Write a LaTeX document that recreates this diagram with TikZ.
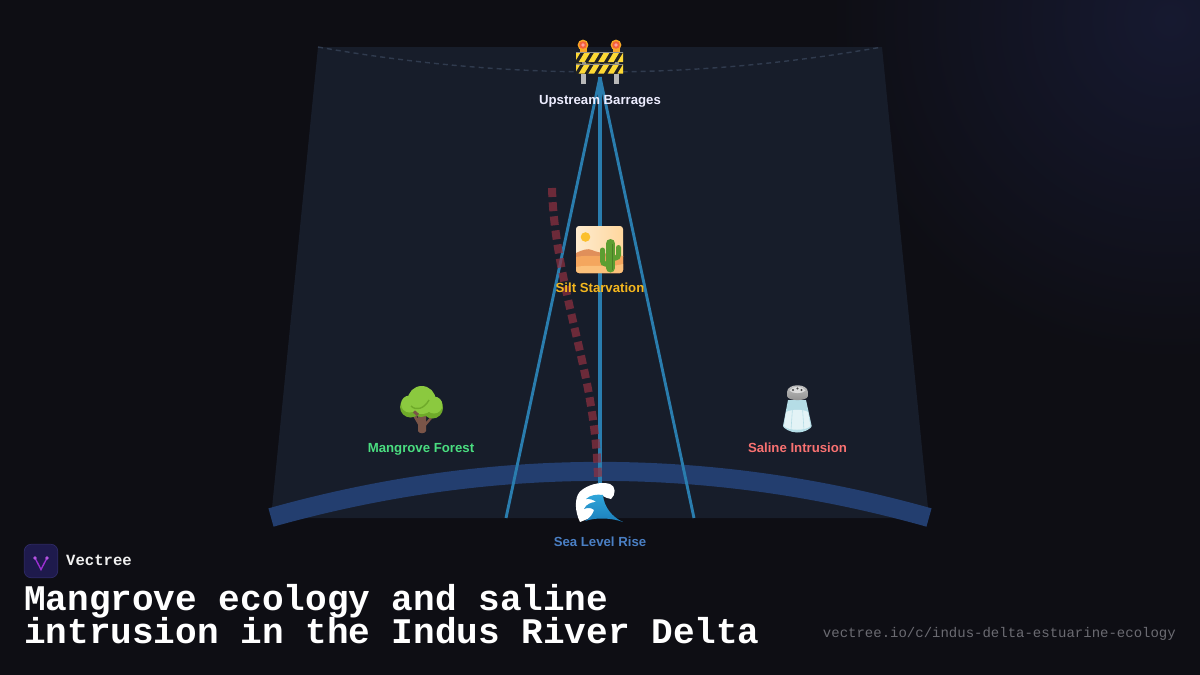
\documentclass[tikz,border=0pt]{standalone}
\usepackage{fontspec}
\setmainfont{Liberation Sans}
\setmonofont{Liberation Mono}
\definecolor{bgc}{HTML}{0E0E14}
\definecolor{panel}{HTML}{171D2A}
\definecolor{glow}{HTML}{161930}
\definecolor{arcblue}{HTML}{233E6F}
\definecolor{riverblue}{HTML}{2A7DAE}
\definecolor{reddash}{HTML}{8E3040}
\definecolor{dashgrey}{HTML}{303B4E}
\definecolor{silt}{HTML}{F5B71E}
\definecolor{mang}{HTML}{4ADE80}
\definecolor{salin}{HTML}{F87171}
\definecolor{sealab}{HTML}{4A7FC4}
\definecolor{urlc}{HTML}{6B6B72}
\definecolor{lampo}{HTML}{F9A825}
\definecolor{lampr}{HTML}{F4603A}
\definecolor{lampc}{HTML}{FF9E9E}
\definecolor{stripey}{HTML}{FDD835}
\definecolor{stripek}{HTML}{222222}
\definecolor{legc}{HTML}{B8B8B8}
\definecolor{sky}{HTML}{FDEBCF}
\definecolor{skyb}{HTML}{FFD79E}
\definecolor{dune}{HTML}{E08F5A}
\definecolor{ground}{HTML}{F4A65E}
\definecolor{groundl}{HTML}{FBC07A}
\definecolor{sunc}{HTML}{FBC02D}
\definecolor{cact}{HTML}{5C9E31}
\definecolor{leafa}{HTML}{8BC93F}
\definecolor{leafb}{HTML}{6FAA2A}
\definecolor{trunkc}{HTML}{7A5548}
\definecolor{glassa}{HTML}{B5DDE6}
\definecolor{glassb}{HTML}{E3F3F6}
\definecolor{capa}{HTML}{C4C4C4}
\definecolor{capb}{HTML}{8F8F8F}
\definecolor{wavea}{HTML}{2FA6DA}
\definecolor{waveb}{HTML}{1C7FBC}
\definecolor{logof}{HTML}{1E1A4C}
\definecolor{logod}{HTML}{2E2A66}
\definecolor{vee}{HTML}{9A2FD0}
\definecolor{veed}{HTML}{B455E2}
\tikzset{
  lab/.style={anchor=base,inner sep=0pt,font=\bfseries\fontsize{13.2}{13.2}\selectfont},
  river/.style={draw=riverblue,line width=2.9pt},
  ttl/.style={anchor=base west,inner sep=0pt,text=white,font=\ttfamily\bfseries\fontsize{36.05}{36}\selectfont},
}
\begin{document}
\begin{tikzpicture}[x=1pt,y=-1pt]
\useasboundingbox (0,0) rectangle (1200,675);
\fill[bgc] (0,0) rectangle (1200,675);
\begin{scope}
\clip (0,0) rectangle (1200,675);
\shade[inner color=glow,outer color=bgc] (1170,20) circle (340);
\end{scope}
% panel
\fill[panel] (318,47) -- (882,47) -- (929,518) -- (271,518) -- cycle;
\coordinate (dashL) at (318,47);
\coordinate (dashR) at (882,47);
\draw[dashgrey,line width=1.4pt,dash pattern=on 5pt off 4pt] (dashL) .. controls (506,80.3) and (694,80.3) .. (dashR);
% sea arc
\coordinate (arcL) at (271,517.5);
\coordinate (arcR) at (929,517.5);
\draw[arcblue,line width=19pt] (arcL) .. controls (490,456) and (710,456) .. (arcR);
% rivers
\coordinate (barrage) at (600,77);
\coordinate (endL) at (506,518);
\coordinate (endM) at (600,518);
\coordinate (endR) at (694,518);
\draw[river] (barrage) -- (endL);
\draw[river,line width=3.3pt] (barrage) -- (endM);
\draw[river] (barrage) -- (endR);
% red dashed
\coordinate (redA) at (552,188);
\coordinate (redB) at (598,477);
\draw[reddash,opacity=.72,line width=8pt,dash pattern=on 9pt off 5.2pt]
  (redA) .. controls (554,262) and (580,340) .. (590,400) .. controls (595,430) and (597,450) .. (redB);
% barrier
\fill[legc] (580.5,72) rectangle (586,84);
\fill[legc] (613.5,72) rectangle (619,84);
\fill[capb] (581.5,52) rectangle (585.5,74);
\fill[capb] (614.5,52) rectangle (618.5,74);
\foreach \lx in {583,616}{
  \fill[lampo] (\lx-3.5,48) rectangle (\lx+3.5,52.5);
  \fill[lampo] (\lx,45) circle (5.4);
  \fill[lampr] (\lx,45) circle (3.8);
  \fill[lampc] (\lx,45) circle (1.8);
}
\foreach \ya/\yb in {52/62,63.5/73.5}{
  \begin{scope}
    \clip (576,\ya) rectangle (623,\yb);
    \fill[stripek] (576,\ya) rectangle (623,\yb);
    \foreach \k in {0,...,5}{
      \fill[stripey] ({569+\k*9.7},\yb) -- ({574.8+\k*9.7},\yb) -- ({580.8+\k*9.7},\ya) -- ({575+\k*9.7},\ya) -- cycle;
    }
  \end{scope}
  \fill[capb] (576,\ya) rectangle (623,\ya+0.9);
}
\node[lab,text=white!93!blue] (upstream) at (600,104) {Upstream Barrages};
% desert
\begin{scope}
\clip[rounded corners=3pt] (576,226) rectangle (623,273);
\shade[left color=sky,right color=skyb] (576,226) rectangle (623,256);
\fill[dune] (576,253) .. controls (582,250) and (588,248) .. (592,250) .. controls (598,253) and (610,254) .. (623,256) -- (623,273) -- (576,273) -- cycle;
\fill[ground] (576,257) .. controls (590,254) and (610,258) .. (623,256) -- (623,273) -- (576,273) -- cycle;
\fill[groundl] (576,267) .. controls (590,264) and (610,268) .. (623,264) -- (623,273) -- (576,273) -- cycle;
\fill[sunc] (585.5,237) circle (4.8);
\draw[cact,line width=9pt,line cap=round] (610.5,243.5) -- (610.5,268);
\draw[cact,line width=5pt,line cap=round,rounded corners=3pt] (602.5,250) -- (602.5,264) -- (608,264);
\draw[cact,line width=5pt,line cap=round,rounded corners=3pt] (618.5,247.5) -- (618.5,258) -- (613,258);
\draw[black!20!cact,line width=1pt] (612,244) -- (612,270);
\end{scope}
\node[lab,text=silt] (silt) at (600,292) {Silt Starvation};
% tree
\fill[trunkc] (418,414) -- (426,414) -- (426,431) .. controls (425,434) and (419,434) .. (418,431) -- cycle;
\draw[trunkc,line width=3pt] (420,425) -- (413,413);
\draw[trunkc,line width=2.4pt] (425,425) -- (431,418);
\fill[leafb] (410.5,407) circle (10.5);
\fill[leafb] (432.5,408) circle (10.5);
\fill[leafb] (421,408) circle (9);
\fill[leafa] (421.7,400) circle (14);
\fill[leafa] (409.5,404) circle (8.5);
\fill[leafa] (434,405) circle (8.5);
\draw[leafb,line width=1.4pt] (411,406) .. controls (416,411) and (424,409) .. (429,400);
\draw[trunkc,line width=3pt] (418,415) -- (414,411.5);
\node[lab,text=mang] (mangrove) at (421,452) {Mangrove Forest};
% salt shaker
\fill[glassa] (788,400) -- (806,400) -- (811.7,426) .. controls (812,428) and (805,432.5) .. (797,432.5) .. controls (790,432.5) and (783,428) .. (783,426) -- cycle;
\fill[glassb] (786,412) .. controls (792,409) and (803,409) .. (808,412) -- (810.5,426) .. controls (806,431) and (788,431) .. (784,426) -- cycle;
\draw[glassa,line width=.6pt] (793,401) -- (791,430) (802,401) -- (804,430);
\shade[top color=capa,bottom color=capb] (787,392) .. controls (787.5,383) and (807.5,383) .. (808,392) -- (808,396) .. controls (807,401.5) and (788,401.5) .. (787,396) -- cycle;
\fill[capa!60!white] (789.5,390.5) .. controls (792,385.5) and (803,385.5) .. (805.5,390.5) .. controls (803,394) and (792,394) .. (789.5,390.5) -- cycle;
\fill[capb!50!black] (793,390) circle (1.1);
\fill[capb!50!black] (797.5,388.5) circle (1.1);
\fill[capb!50!black] (801.5,390) circle (1.1);
\node[lab,text=salin] (saline) at (797.5,452) {Saline Intrusion};
% wave
\fill[white] (580,522) .. controls (575,512) and (574,498) .. (580,491.5) .. controls (587,485) and (600,481) .. (610,484) .. controls (616,486) and (616,495) .. (611,499) .. controls (608,499) and (605,497) .. (603,496) -- (595,516) -- cycle;
\shade[top color=wavea,bottom color=waveb] (603,495) .. controls (597,494) and (590,495) .. (586,499) .. controls (590,498.5) and (594,500) .. (596,502) .. controls (592,502) and (586,504) .. (584,509) .. controls (588,507) and (592,508) .. (594,510) .. controls (593,514) and (590,518) .. (585,521) .. controls (597,517) and (612,518) .. (623,522) .. controls (612,517) and (604,507) .. (603,495) -- cycle;
\node[lab,text=sealab] (sealevel) at (600,546) {Sea Level Rise};
% logo
\node[draw=logod,line width=.7pt,fill=logof,rounded corners=7pt,minimum width=33.5pt,minimum height=33.5pt,inner sep=0pt] (logo) at (41,561) {};
\coordinate (vb) at (41,569.5);
\coordinate (va) at (35,558);
\coordinate (vc) at (47,558);
\draw[vee,line width=1.4pt] (va) -- (vb) -- (vc);
\fill[veed] (va) circle (1.8) (vc) circle (1.8);
\node[anchor=base west,inner sep=0pt,text=white!88!gray,font=\ttfamily\bfseries\fontsize{15.6}{15.6}\selectfont] (brand) at (66,565.5) {Vectree};
\node[ttl] (t1) at (24,610.5) {Mangrove ecology and saline};
\node[ttl] (t2) at (24,643.5) {intrusion in the Indus River Delta};
\node[anchor=base east,inner sep=0pt,text=urlc,font=\ttfamily\fontsize{14}{14}\selectfont] (url) at (1176,637) {vectree.io/c/indus-delta-estuarine-ecology};
\end{tikzpicture}
\end{document}
